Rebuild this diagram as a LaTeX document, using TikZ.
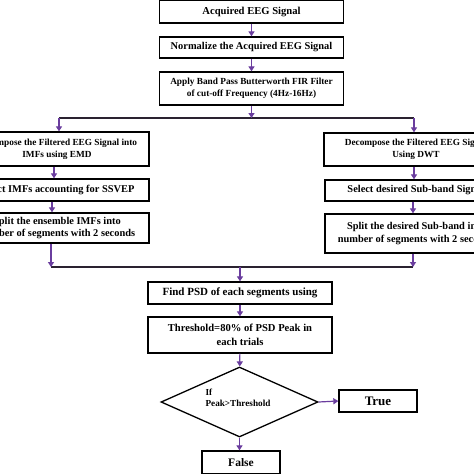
\documentclass[tikz,border=0pt]{standalone}
\usepackage{fontspec}
\setmainfont{Liberation Serif}
\usetikzlibrary{shapes.geometric,arrows.meta}
\definecolor{arrpurple}{HTML}{6A3D9E}
\definecolor{linedark}{HTML}{2A2230}
\tikzset{
  stepbox/.style={draw=black, line width=1.3pt, fill=white, align=center, inner sep=0pt,
    font=\fontsize{9.3}{11.8}\selectfont\bfseries},
  bigtext/.style={font=\fontsize{10.4}{12.8}\selectfont\bfseries},
  decision/.style={draw=black, line width=1.3pt, diamond, inner sep=0pt},
  dlabel/.style={align=left, inner sep=0pt, font=\fontsize{9.2}{11}\selectfont\bfseries},
  arr/.style={draw=arrpurple, line width=1.2pt, -{Triangle[length=5pt,width=6pt]}},
  hline/.style={draw=linedark, line width=1.2pt},
}
\begin{document}
\begin{tikzpicture}[x=1pt,y=-1pt]
\clip (0,0) rectangle (474,474);
\useasboundingbox (0,0) rectangle (474,474);
\fill[white] (0,0) rectangle (474,474);
% top column
\node[stepbox, minimum width=184pt, minimum height=23pt, font=\fontsize{10.6}{12.6}\selectfont\bfseries] (b1) at (251.5,11.5) {Acquired EEG Signal};
\node[stepbox, bigtext, minimum width=184pt, minimum height=21pt] (b2) at (251.5,47.5) {Normalize the Acquired EEG Signal};
\node[stepbox, minimum width=184pt, minimum height=33pt] (b3) at (251.5,88.5) {Apply Band Pass Butterworth FIR Filter\\of cut-off Frequency (4Hz-16Hz)};
% left column
\node[stepbox, minimum width=184pt, minimum height=34pt] (l1) at (57,149) {Decompose the Filtered EEG Signal into\\IMFs using EMD};
\node[stepbox, bigtext, minimum width=184pt, minimum height=22pt] (l2) at (57,190) {Select IMFs accounting for SSVEP};
\node[stepbox, bigtext, minimum width=184pt, minimum height=30pt] (l3) at (57,228) {Split the ensemble IMFs into\\number of segments with 2 seconds};
% right column
\node[stepbox, minimum width=184pt, minimum height=33pt] (r1) at (416,149.5) {Decompose the Filtered EEG Signal\\Using DWT};
\node[stepbox, bigtext, minimum width=182pt, minimum height=21pt] (r2) at (416,190.5) {Select desired Sub-band Signal};
\node[stepbox, bigtext, minimum width=182pt, minimum height=39pt] (r3) at (416,233.5) {Split the desired Sub-band into\\number of segments with 2 seconds};
% bottom column
\node[stepbox, minimum width=184pt, minimum height=22pt, font=\fontsize{11}{13}\selectfont\bfseries] (p1) at (240,293) {Find PSD of each segments using};
\node[stepbox, minimum width=184pt, minimum height=36pt, font=\fontsize{10.6}{13.5}\selectfont\bfseries] (p2) at (240,335) {Threshold=80\% of PSD Peak in\\each trials};
\node[decision, minimum width=157pt, minimum height=70pt] (d) at (239.5,402) {};
\node[dlabel] (dt) at (238,397.5) {If\\Peak>Threshold};
\node[stepbox, minimum width=78pt, minimum height=22pt, font=\fontsize{13}{15}\selectfont\bfseries] (t) at (378,401) {True};
\node[stepbox, minimum width=78pt, minimum height=23pt, font=\fontsize{11.5}{13}\selectfont\bfseries] (f) at (241,462.5) {False};
% junctions
\coordinate (j1) at (251.5,118);
\coordinate (jl) at (59,118);
\coordinate (jr) at (414,118);
\coordinate (k1) at (240,267);
\coordinate (kl) at (51,267);
\coordinate (kr) at (413,267);
\coordinate (a1) at (54,0);
\coordinate (a2) at (52,0);
% connectors
\draw[arr] (b1) -- (b2);
\draw[arr] (b2) -- (b3);
\draw[hline] (jl) -- (jr);
\draw[arr] (b3.south) -- (j1);
\draw[arr] (jl) -- (jl |- l1.north);
\draw[arr] (jr) -- (jr |- r1.north);
\draw[arr] (l1.south -| a1) -- (l2.north -| a1);
\draw[arr] (l2.south -| a2) -- (l3.north -| a2);
\draw[arr] (r1.south -| jr) -- (r2.north -| jr);
\draw[arr] (r2.south -| kr) -- (r3.north -| kr);
\draw[hline] (kl) -- (kr);
\draw[arr] (l3.south -| kl) -- (kl);
\draw[arr] (r3.south -| kr) -- (kr);
\draw[arr] (k1) -- (p1);
\draw[arr] (p1) -- (p2);
\draw[arr] (p2) -- (d);
\draw[arr] (d.east) -- (t.west);
\draw[arr] (d.south) -- (d.south |- f.north);
\end{tikzpicture}
\end{document}
